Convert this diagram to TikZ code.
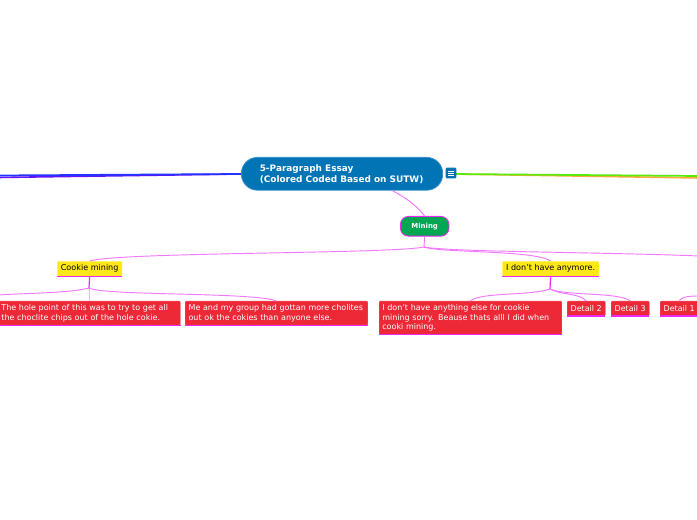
\documentclass[tikz,border=0pt]{standalone}
\usepackage{fontspec}
\setmainfont{DejaVu Sans}
\definecolor{rootblue}{RGB}{0,116,181}
\definecolor{rootedge}{RGB}{60,145,200}
\definecolor{minegreen}{RGB}{0,166,81}
\definecolor{linkpink}{RGB}{244,120,255}
\definecolor{barpink}{RGB}{235,40,245}
\definecolor{headyellow}{RGB}{255,232,26}
\definecolor{detailred}{RGB}{237,41,56}
\definecolor{linkblue}{RGB}{35,50,255}
\definecolor{linkviolet}{RGB}{100,20,250}
\definecolor{linkgreen}{RGB}{90,235,10}
\definecolor{linkorange}{RGB}{250,170,60}
\tikzset{
  rootbox/.style={fill=rootblue,draw=rootedge,line width=0.6pt,rounded corners=12pt,anchor=north west,inner sep=0pt,
    minimum width=151pt,minimum height=24.6pt,text=white,align=left,font=\fontsize{6.7}{8.6}\selectfont\bfseries},
  minebox/.style={fill=minegreen,draw=barpink,line width=0.6pt,rounded corners=6pt,anchor=north west,inner sep=0pt,
    minimum width=36.4pt,minimum height=14.8pt,text=white,font=\fontsize{5.2}{6}\selectfont\bfseries},
  headbox/.style={fill=headyellow,rounded corners=0.8pt,anchor=north west,inner sep=0pt,minimum height=11pt,
    text=black,font=\fontsize{6.05}{8}\selectfont},
  detailbox/.style={fill=detailred,draw=detailred!80,line width=0.2pt,rounded corners=0.8pt,anchor=north west,inner sep=0pt,
    text=white,align=left,font=\fontsize{6}{7.2}\selectfont},
  link/.style={draw=linkpink,line width=0.7pt},
  faint/.style={draw=linkpink!60,line width=0.7pt},
  bar/.style={draw=barpink,line width=0.9pt}
}
\begin{document}
\begin{tikzpicture}[x=0.75pt,y=0.75pt,yscale=-1,xscale=1]
\useasboundingbox (0,0) rectangle (697,520);
\fill[white] (0,0) rectangle (697,520);

% free ends and forks
\coordinate (leftA) at (-2,175.5);
\coordinate (leftB) at (-2,177.5);
\coordinate (rightA) at (699,176);
\coordinate (rightB) at (699,178);
\coordinate (mineFork) at (424,247);
\coordinate (mineRight) at (699,256);
\coordinate (cookieFork) at (89,288);
\coordinate (cookieLeft) at (-2,295);
\coordinate (dontFork) at (550,289);
\coordinate (dontRight) at (699,296);

% long branches behind the root
\draw[linkviolet,line width=1.2pt] (241,174) -- (leftB);
\draw[linkblue,line width=1.3pt] (241,174) -- (leftA);
\draw[linkorange,line width=1.2pt] (451,174) -- (rightB);
\draw[linkgreen,line width=1.3pt] (451,174) -- (rightA);

% nodes
\node[rootbox] (root) at (241,157) {};
\node[anchor=west,inner sep=0pt,text=white,align=left,font=\fontsize{6.7}{8.6}\selectfont\bfseries] (rootText) at (259.5,174) {5-Paragraph Essay\\(Colored Coded Based on SUTW)};
\node[fill=rootblue,rounded corners=0.8pt,minimum size=8pt,inner sep=0pt] (menu) at (451,173) {};
\draw[white,line width=0.4pt] (448,171) -- (454,171) (448,173) -- (454,173) (448,175) -- (454,175);
\node[minebox] (mining) at (400,216) {Mining};

\node[headbox,minimum width=48.6pt] (cookie) at (57,261) {Cookie mining};
\node[headbox,minimum width=72.6pt] (dont) at (502,261) {I don't have anymore.};

\node[detailbox,minimum width=136pt,minimum height=18pt,text width=135pt] (hole) at (-1,301) {\hspace*{1.2pt}The hole point of this was to try to get all\\\hspace*{1.2pt}the choclite chips out of the hole cokie.};
\node[detailbox,minimum width=137pt,minimum height=18pt,text width=131.8pt,inner xsep=2.6pt] (group) at (185,301) {Me and my group had gottan more cholites\\out ok the cokies than anyone else.};
\node[detailbox,minimum width=137pt,minimum height=25pt,text width=132.2pt,inner xsep=2.4pt] (sorry) at (379,301) {I don't have anything else for cookie\\mining sorry. Beause thats alll I did when\\cooki mining.};
\node[detailbox,minimum width=28.6pt,minimum height=11pt,align=center] (detailTwo) at (567,301) {Detail 2};
\node[detailbox,minimum width=28.6pt,minimum height=11pt,align=center] (detailThree) at (611,301) {Detail 3};
\node[detailbox,minimum width=28.6pt,minimum height=11pt,align=center] (detailOne) at (660,301) {Detail 1};

% underlines
\draw[bar] (cookie.south west) -- (cookie.south east);
\draw[bar] (dont.south west) -- (dont.south east);
\draw[bar] (hole.south west) -- (hole.south east);
\draw[bar] (group.south west) -- (group.south east);
\draw[bar] (sorry.south west) -- (sorry.south east);
\draw[bar] (detailTwo.south west) -- (detailTwo.south east);
\draw[bar] (detailThree.south west) -- (detailThree.south east);
\draw[bar] (detailOne.south west) -- (detailOne.south east);

% connectors
\draw[link] (root.south) ++(50,0) .. controls (405,197) and (416,205) .. (mining.north);
\draw[link] (mining.south) -- (mineFork);
\draw[link] (mineFork) .. controls (390,254) and (120,252) .. (cookie.north);
\draw[link] (mineFork) .. controls (440,253) and (535,250) .. (dont.north);
\draw[link] (mineFork) .. controls (450,252) and (600,252) .. (mineRight);
\draw[bar] (cookie.south) -- (cookieFork);
\draw[link] (cookieFork) .. controls (70,293) and (30,293) .. (cookieLeft);
\draw[faint] (cookieFork) -- (hole.north -| cookieFork);
\draw[link] (cookieFork) .. controls (105,296) and (255,292) .. (group.north);
\draw[bar] (dont.south) -- (dontFork);
\draw[link] (dontFork) .. controls (530,296) and (480,292) .. (sorry.north);
\draw[link] (dontFork) .. controls (560,295) and (580,293) .. (detailTwo.north);
\draw[link] (dontFork) .. controls (565,296) and (620,292) .. (detailThree.north);
\draw[link] (dontRight) .. controls (688,296) and (681,297) .. (detailOne.north);
\end{tikzpicture}
\end{document}
